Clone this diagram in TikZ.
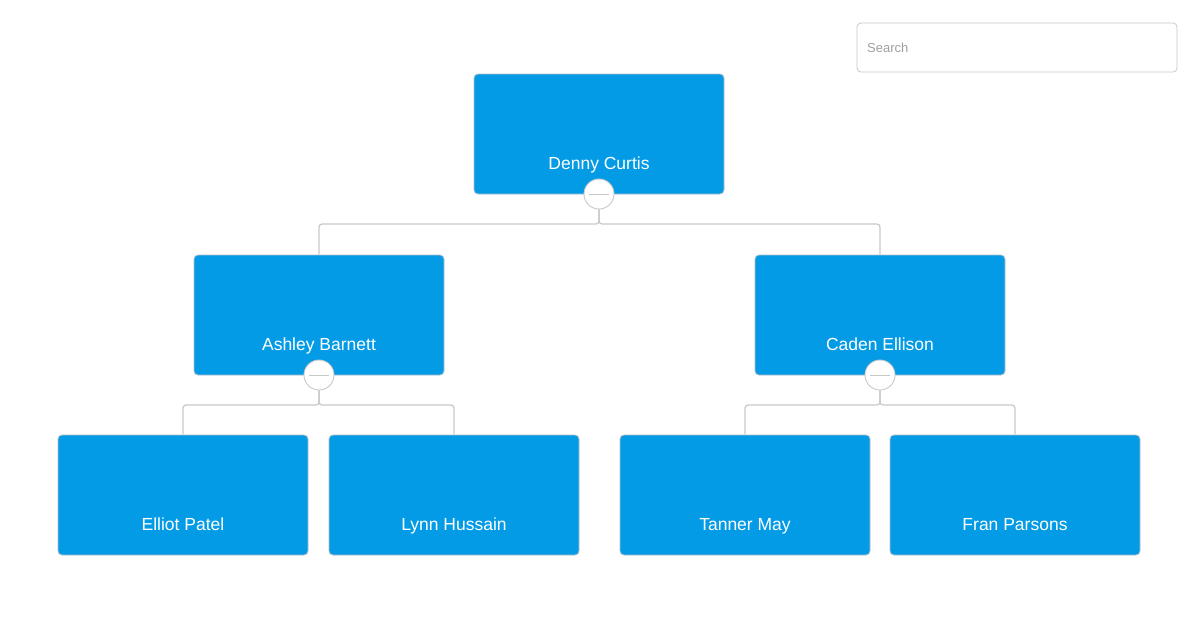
\documentclass[tikz,border=0pt]{standalone}
\usepackage{fontspec}
\setmainfont{Liberation Sans}
\definecolor{nodeblue}{RGB}{3,155,229}
\definecolor{nodeborder}{RGB}{180,190,200}
\definecolor{conn}{RGB}{200,200,200}
\definecolor{searchborder}{RGB}{200,200,200}
\definecolor{placeholder}{RGB}{160,160,160}
\begin{document}
\begin{tikzpicture}[x=1pt,y=-1pt,
  person/.style={draw=nodeborder,line width=0.8pt,fill=nodeblue,rounded corners=4pt,minimum width=250pt,minimum height=120pt,inner sep=0pt},
  lbl/.style={text=white,font=\fontsize{17.5}{20}\selectfont,anchor=base},
  toggle/.style={circle,draw=conn,fill=white,line width=0.9pt,minimum size=30pt,inner sep=0pt},
  link/.style={draw=conn,line width=1.2pt,rounded corners=3pt}]
\useasboundingbox (0,0) rectangle (1200,630);
\fill[white] (0,0) rectangle (1200,630);
% search box
\node[draw=searchborder,line width=0.8pt,rounded corners=4pt,minimum width=320pt,minimum height=49pt,inner sep=0pt] (search) at (1017,47.5) {};
\node[anchor=west,text=placeholder,font=\fontsize{13}{15}\selectfont,inner sep=0pt] (searchtxt) at (867,48) {Search};
% nodes
\node[person] (denny) at (599,134) {};
\node[person] (ashley) at (319,315) {};
\node[person] (caden) at (880,315) {};
\node[person] (elliot) at (183,495) {};
\node[person] (lynn) at (454,495) {};
\node[person] (tanner) at (745,495) {};
\node[person] (fran) at (1015,495) {};
% labels
\node[lbl] (tdenny) at (599,169) {Denny Curtis};
\node[lbl] (tashley) at (319,350) {Ashley Barnett};
\node[lbl] (tcaden) at (880,350) {Caden Ellison};
\node[lbl] (telliot) at (183,530) {Elliot Patel};
\node[lbl] (tlynn) at (454,530) {Lynn Hussain};
\node[lbl] (ttanner) at (745,530) {Tanner May};
\node[lbl] (tfran) at (1015,530) {Fran Parsons};
% toggles
\node[toggle] (g1) at (599,194) {};
\node[toggle] (g2) at (319,375) {};
\node[toggle] (g3) at (880,375) {};
\foreach \g in {g1,g2,g3}{
  \draw[conn,line width=1pt] ([xshift=-10pt]\g.center) -- ([xshift=10pt]\g.center);
}
% connectors
\path[link] (g1.south) |- (319,224) -- (ashley.north);
\path[link] (g1.south) |- (880,224) -- (caden.north);
\path[link] (g2.south) |- (183,405) -- (elliot.north);
\path[link] (g2.south) |- (454,405) -- (lynn.north);
\path[link] (g3.south) |- (745,405) -- (tanner.north);
\path[link] (g3.south) |- (1015,405) -- (fran.north);
\end{tikzpicture}
\end{document}
